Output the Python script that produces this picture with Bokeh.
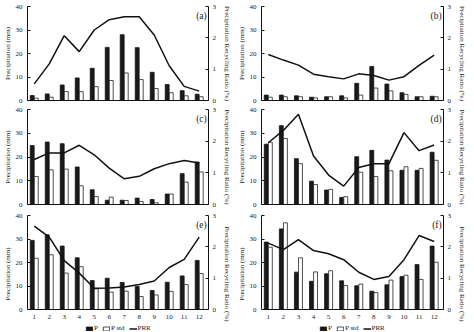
from bokeh.plotting import figure
from bokeh.models import (Range1d, LinearAxis, FixedTicker, Label, Legend,
                          LegendItem, ColumnDataSource)
from bokeh.layouts import column, row
from bokeh.transform import dodge
from bokeh.embed import file_html
from bokeh.resources import INLINE

# ---------------- data ----------------
months = [1, 2, 3, 4, 5, 6, 7, 8, 9, 10, 11, 12]
month_labels = ["1", "2", "3", "4", "5", "6", "7", "8", "9", "10", "11", "12"]
panel_names = ["(a)", "(b)", "(c)", "(d)", "(e)", "(f)"]
legend_labels = ["P", "P std", "PRR"]
left_ticks = [0, 10, 20, 30, 40]
right_ticks = [0, 1, 2, 3]

P_a = [2.1, 2.8, 6.6, 9.6, 13.7, 22.6, 28.0, 22.5, 12.0, 6.8, 4.2, 2.7]
Pstd_a = [1.0, 1.4, 3.8, 3.8, 5.9, 8.5, 11.7, 8.9, 5.1, 3.3, 2.0, 1.6]
PRR_a = [0.53, 1.17, 2.07, 1.56, 2.25, 2.58, 2.67, 2.67, 2.09, 1.11, 0.45, 0.30]

P_b = [2.3, 2.3, 2.0, 1.4, 1.6, 2.0, 7.3, 14.5, 7.0, 3.3, 1.6, 1.8]
Pstd_b = [1.4, 1.6, 1.6, 1.1, 1.6, 1.1, 2.3, 5.3, 4.1, 2.6, 1.6, 1.6]
PRR_b = [1.47, 1.29, 1.13, 0.84, 0.76, 0.69, 0.85, 0.80, 0.65, 0.76, 1.12, 1.45]

P_c = [24.8, 26.3, 25.6, 15.8, 6.2, 1.8, 1.8, 2.7, 2.1, 4.4, 13.0, 17.9]
Pstd_c = [11.8, 14.6, 14.9, 7.9, 3.4, 3.1, 1.7, 1.3, 0.7, 4.4, 9.4, 13.7]
PRR_c = [1.42, 1.63, 1.63, 1.87, 1.57, 1.15, 0.81, 0.89, 1.13, 1.29, 1.39, 1.31]

P_d = [25.4, 33.2, 19.3, 9.8, 6.1, 3.0, 20.1, 22.8, 18.7, 14.4, 14.4, 22.0]
Pstd_d = [26.2, 27.8, 17.2, 8.4, 6.4, 3.3, 13.6, 11.8, 14.2, 15.9, 15.2, 18.6]
PRR_d = [1.95, 2.34, 2.85, 1.53, 0.93, 0.58, 1.17, 1.29, 1.29, 2.27, 1.70, 1.88]

P_e = [29.4, 31.8, 27.0, 22.0, 12.3, 13.3, 11.5, 9.8, 8.1, 11.6, 14.3, 20.9]
Pstd_e = [21.8, 23.3, 15.5, 18.2, 8.8, 7.4, 7.8, 5.5, 6.2, 7.7, 10.6, 15.3]
PRR_e = [2.66, 2.31, 1.56, 1.16, 0.68, 0.69, 0.72, 0.80, 0.91, 1.34, 1.60, 2.31]

P_f = [28.7, 34.3, 15.9, 12.0, 15.2, 12.2, 10.1, 7.8, 10.5, 14.0, 19.1, 27.0]
Pstd_f = [26.5, 36.9, 22.0, 16.0, 16.5, 10.2, 10.8, 7.2, 12.5, 14.6, 12.8, 20.1]
PRR_f = [2.12, 1.91, 2.23, 1.88, 1.78, 1.59, 1.19, 0.96, 1.05, 1.59, 2.36, 2.17]

FONT = "Liberation Serif"
TXT = "#222222"
FS = "7px"
PLOT_H = 94.0      # pixel height of the 0..40 span
BOTTOM_PAD = 23.0  # pixels below zero in bottom row (labels + legend)


def style_axis(ax, ticks, ticks_in, label_standoff, axis_standoff):
    ax.ticker = FixedTicker(ticks=ticks)
    ax.major_tick_in = ticks_in
    ax.major_tick_out = 0
    ax.minor_tick_in = 0
    ax.minor_tick_out = 0
    ax.axis_line_color = "#111111"
    ax.major_tick_line_color = "#111111"
    ax.major_label_text_font = FONT
    ax.major_label_text_font_size = FS
    ax.major_label_text_color = TXT
    ax.major_label_standoff = label_standoff
    ax.axis_label_text_font = FONT
    ax.axis_label_text_font_size = FS
    ax.axis_label_text_font_style = "normal"
    ax.axis_label_text_color = TXT
    ax.axis_label_standoff = axis_standoff


def make_panel(name, P, Pstd, PRR, width, height, bl, br, bt, bb, bottom_row):
    src = ColumnDataSource(dict(month=months, P=P, Pstd=Pstd, PRR=PRR))
    if bottom_row:
        y0 = -BOTTOM_PAD * 40.0 / PLOT_H
        r0 = -BOTTOM_PAD * 3.0 / PLOT_H
    else:
        y0 = 0.0
        r0 = 0.0
    p = figure(width=width, height=height, output_backend="svg",
               toolbar_location=None,
               x_range=Range1d(0.55, 12.62), y_range=Range1d(y0, 40),
               min_border_left=bl, min_border_right=br,
               min_border_top=bt, min_border_bottom=bb)
    p.extra_y_ranges = {"prr": Range1d(r0, 3)}
    p.grid.visible = False
    p.outline_line_color = None

    r1 = p.vbar(x=dodge("month", -0.135), top="P", bottom=0, width=0.26,
                source=src, fill_color="#1a1a1a", line_color="#111111",
                line_width=0.8)
    r2 = p.vbar(x=dodge("month", 0.135), top="Pstd", bottom=0, width=0.26,
                source=src, fill_color="white", line_color="#222222",
                line_width=0.8)
    r3 = p.line(x="month", y="PRR", source=src, y_range_name="prr",
                line_color="#111111", line_width=1.5)

    yl = p.yaxis[0]
    style_axis(yl, left_ticks, 3, 5, 1)
    yl.axis_label = "Precipitation (mm)"
    yl.bounds = (0, 40)

    yr = LinearAxis(y_range_name="prr")
    style_axis(yr, right_ticks, 3, 4, 4)
    yr.axis_label = "Precipitation Recycling Ratio (%)"
    yr.bounds = (0, 3)
    p.add_layout(yr, "right")

    xa = p.xaxis[0]
    xa.major_tick_in = 0
    xa.major_tick_out = 0
    xa.minor_tick_in = 0
    xa.minor_tick_out = 0
    xa.axis_line_color = "#111111"
    if bottom_row:
        xa.fixed_location = 0
        xa.ticker = FixedTicker(ticks=months)
        xa.major_label_overrides = {m: lab for m, lab in zip(months, month_labels)}
        xa.major_label_text_font = FONT
        xa.major_label_text_font_size = FS
        xa.major_label_text_color = TXT
        xa.major_label_standoff = 5
        leg = Legend(items=[LegendItem(label=legend_labels[0], renderers=[r1]),
                            LegendItem(label=legend_labels[1], renderers=[r2]),
                            LegendItem(label=legend_labels[2], renderers=[r3])],
                     orientation="horizontal", location=(58, 0),
                     glyph_width=8, glyph_height=5, label_height=6,
                     label_width=4, label_standoff=1, spacing=4,
                     padding=1, margin=0, border_line_color=None,
                     background_fill_alpha=0,
                     label_text_font=FONT, label_text_font_size=FS,
                     label_text_color=TXT)
        p.add_layout(leg)
    else:
        xa.ticker = FixedTicker(ticks=[])
        xa.major_label_standoff = 0
        xa.major_label_text_font_size = "0px"

    lab = Label(x=12.5, y=36, text=name, text_align="right",
                text_baseline="middle", text_font=FONT,
                text_font_size="9.5px", text_color=TXT)
    p.add_layout(lab)
    return p


fa = make_panel(panel_names[0], P_a, Pstd_a, PRR_a, 234, 104, 25, 25, 6, 4, False)
fb = make_panel(panel_names[1], P_b, Pstd_b, PRR_b, 240, 104, 25, 31, 6, 4, False)
fc = make_panel(panel_names[2], P_c, Pstd_c, PRR_c, 234, 104, 25, 25, 5, 4, False)
fd = make_panel(panel_names[3], P_d, Pstd_d, PRR_d, 240, 104, 25, 31, 5, 4, False)
fe = make_panel(panel_names[4], P_e, Pstd_e, PRR_e, 234, 124, 25, 25, 7, 0, True)
ff = make_panel(panel_names[5], P_f, Pstd_f, PRR_f, 240, 124, 25, 31, 7, 0, True)

layout = column(row(fa, fb), row(fc, fd), row(fe, ff))
open("out.html", "w").write(file_html(layout, INLINE))
